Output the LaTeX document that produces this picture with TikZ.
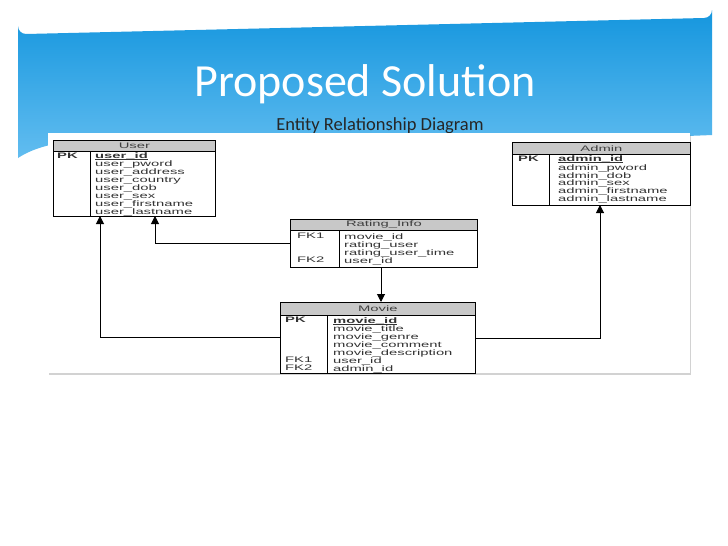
\documentclass[tikz,border=0pt]{standalone}
\usepackage{fontspec}
\setmainfont{Liberation Sans}
\newfontfamily\calib{Carlito}
\newfontfamily\wide[FakeStretch=1.85]{Liberation Sans}
\usetikzlibrary{arrows.meta,shadows}
\definecolor{blueA}{HTML}{1596DE}
\definecolor{blueB}{HTML}{62BDF0}
\definecolor{hdr}{HTML}{C8C8C8}
\newcommand{\fldfont}{\wide\fontsize{8}{8}\selectfont\lineskiplimit=-20pt\lineskip=0pt}
\newsavebox{\ulbox}
\newcommand{\pkul}[1]{\sbox{\ulbox}{\textbf{#1}}\usebox{\ulbox}\llap{\smash{\rule[-1.1pt]{\wd\ulbox}{0.6pt}}}}
\tikzset{
 tbody/.style={draw=black,line width=0.8pt,fill=white,anchor=north west,inner sep=0pt},
 thead/.style={draw=black,line width=0.8pt,fill=hdr,anchor=north west,inner sep=0pt,font=\wide\fontsize{8}{8}\selectfont,text=black!75},
 fld/.style={anchor=north west,inner sep=0pt,font=\fldfont,align=left,text=black!80},
 conn/.style={line width=1pt,-{Triangle[length=8pt,width=8pt]}},
}
\begin{document}
\begin{tikzpicture}[x=1pt,y=-1pt]
\useasboundingbox (0,0) rectangle (728,546);
\fill[white] (0,0) rectangle (728,546);
% blue header
\shade[top color=blueA,bottom color=blueB]
 (18,26) arc[start angle=180,end angle=90,radius=8] -- (704,18) arc[start angle=90,end angle=0,radius=8]
 -- (712,135) .. controls (600,140) and (450,138) .. (300,138)
 .. controls (150,138) and (60,130) .. (18,158) -- cycle;
\node[text=white,font=\calib\fontsize{46}{46}\selectfont,anchor=base] (title) at (365,96) {Proposed Solution};
\node[text=black!85,font=\calib\fontsize{18.5}{18.5}\selectfont,anchor=base] (sub) at (380,130) {Entity Relationship Diagram};
% panel
\node[fill=white,drop shadow={opacity=0.35,shadow xshift=1pt,shadow yshift=-2pt},anchor=north west,minimum width=642pt,minimum height=240pt,inner sep=0pt] (panel) at (48,133) {};
% User
\node[thead,minimum width=162pt,minimum height=11pt] (userh) at (53,140) {User};
\node[tbody,minimum width=162pt,minimum height=65pt] (user) at (53,151) {};
\draw[line width=0.8pt] (90,151) -- (90,216);
\node[fld,font=\fldfont\bfseries] (userpk) at (57,153) {PK};
\node[fld] (userf) at (95,153) {\pkul{user\_id}\\user\_pword\\user\_address\\user\_country\\user\_dob\\user\_sex\\user\_firstname\\user\_lastname};
% Admin
\node[thead,minimum width=178pt,minimum height=12pt] (adminh) at (512,142) {Admin};
\node[tbody,minimum width=178pt,minimum height=51pt] (admin) at (512,154) {};
\draw[line width=0.8pt] (549,154) -- (549,205);
\node[fld,font=\fldfont\bfseries] (adminpk) at (518,156) {PK};
\node[fld] (adminf) at (558,156) {\pkul{admin\_id}\\admin\_pword\\admin\_dob\\admin\_sex\\admin\_firstname\\admin\_lastname};
% Rating_Info
\node[thead,minimum width=187pt,minimum height=11pt] (ratingh) at (290,219) {Rating\_Info};
\node[tbody,minimum width=187pt,minimum height=37pt] (rating) at (290,230) {};
\draw[line width=0.8pt] (339,230) -- (339,267);
\node[fld] (ratingk) at (297,233) {FK1\\\\\\FK2};
\node[fld] (ratingf) at (344,233) {movie\_id\\rating\_user\\rating\_user\_time\\user\_id};
% Movie
\node[thead,minimum width=195pt,minimum height=13pt] (movieh) at (280,302) {Movie};
\node[tbody,minimum width=195pt,minimum height=58pt] (movie) at (280,315) {};
\draw[line width=0.8pt] (327,315) -- (327,373);
\node[fld] (moviek) at (285,317) {\textbf{PK}\\\\\\\\\\FK1\\FK2};
\node[fld] (movief) at (333,317) {\pkul{movie\_id}\\movie\_title\\movie\_genre\\movie\_comment\\movie\_description\\user\_id\\admin\_id};
% connectors
\coordinate (r1) at (155,243);
\coordinate (m1) at (100,337);
\coordinate (m2) at (600,338);
\draw[conn] (rating.west |- r1) -- (r1) -- (155,216);
\draw[conn] (movie.west |- m1) -- (m1) -- (100,216);
\draw[conn] (movie.east |- m2) -- (m2) -- (600,205);
\draw[conn] (381,267) -- (381,302);
\end{tikzpicture}
\end{document}
